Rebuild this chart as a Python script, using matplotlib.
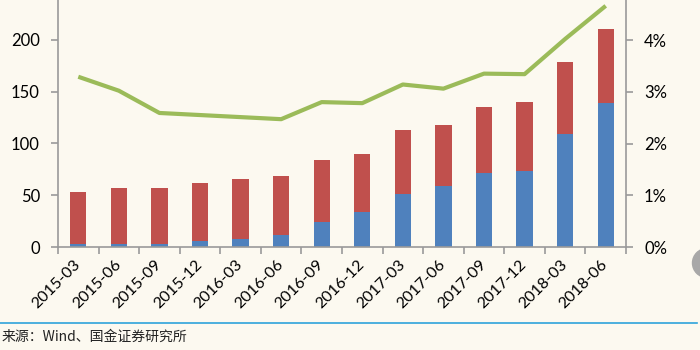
import matplotlib
matplotlib.use("Agg")
import matplotlib.pyplot as plt
import numpy as np
from matplotlib.patches import Ellipse

plt.rcParams['font.family'] = ['Lato', 'Noto Sans CJK SC', 'DejaVu Sans']

categories = ["2015-03", "2015-06", "2015-09", "2015-12", "2016-03", "2016-06", "2016-09",
              "2016-12", "2017-03", "2017-06", "2017-09", "2017-12", "2018-03", "2018-06"]
blue_vals = [3, 3, 3, 5.5, 8, 11.3, 24.5, 33.5, 51, 59.3, 71.2, 73.7, 109, 139]
total_vals = [53, 57, 57, 62, 66, 69, 84, 90, 113, 118, 135, 140, 179, 211]
red_vals = [t - b for t, b in zip(total_vals, blue_vals)]
line_pct = [3.29, 3.02, 2.59, 2.55, 2.51, 2.47, 2.80, 2.78, 3.14, 3.06, 3.35, 3.34, 4.02, 4.66]
source_text = "来源：Wind、国金证券研究所"

bg = "#FCF9F0"
blue = "#4F81BD"
red = "#C0504D"
green = "#9BBB59"
spine_c = "#9A9A9A"

fig = plt.figure(figsize=(7, 3.5), dpi=100, facecolor=bg)
ax = fig.add_axes([58/700, 103/350, 568/700, 247/350])
ax.set_facecolor(bg)
x = np.arange(len(categories))
ax.bar(x, blue_vals, width=0.4, color=blue, zorder=2)
ax.bar(x, red_vals, bottom=blue_vals, width=0.4, color=red, zorder=2)
ax.set_xlim(-0.5, len(categories) - 0.5)
ax.set_ylim(0, 238.6)
ax.set_yticks([0, 50, 100, 150, 200])
ax.set_xticks(x)
ax.set_xticklabels(categories, rotation=45, ha='right', va='center', rotation_mode='anchor', fontsize=11.5)
ax.tick_params(axis='x', length=0, pad=11)
ax.set_xticks(np.arange(-0.5, len(categories), 1), minor=True)
ax.tick_params(axis='x', which='minor', length=5, color=spine_c, width=1.2, direction='out')
ax.tick_params(axis='y', length=5, color=spine_c, width=1.2, labelsize=12, pad=8)
ax.spines['top'].set_visible(False)
ax.spines['right'].set_visible(False)
for s in ['left', 'bottom']:
    ax.spines[s].set_color(spine_c)
    ax.spines[s].set_linewidth(1.2)

ax2 = ax.twinx()
ax2.plot(x, line_pct, color=green, lw=3, zorder=3, solid_capstyle='butt')
ax2.set_ylim(0, 4.773)
ax2.set_yticks([0, 1, 2, 3, 4])
ax2.set_yticklabels(["0%", "1%", "2%", "3%", "4%"])
ax2.tick_params(axis='y', length=5, color=spine_c, width=1.2, labelsize=12, pad=8)
for s in ['top', 'left', 'bottom']:
    ax2.spines[s].set_visible(False)
ax2.spines['right'].set_color(spine_c)
ax2.spines['right'].set_linewidth(1.2)

fig.add_artist(plt.Line2D([0, 697/700], [1 - 323/350, 1 - 323/350], color="#2EA3DB", lw=1.2, transform=fig.transFigure))
fig.text(2/700, 1 - 337/350, source_text, fontsize=10, va='center', ha='left', color="#222222",
         family=['Noto Sans CJK SC', 'DejaVu Sans'])

fig.add_artist(Ellipse((707/700, 1 - 263/350), 29/700, 29/350, transform=fig.transFigure, color="#A8A8A8", clip_on=False))

fig.savefig("out.png", dpi=100, facecolor=bg)
